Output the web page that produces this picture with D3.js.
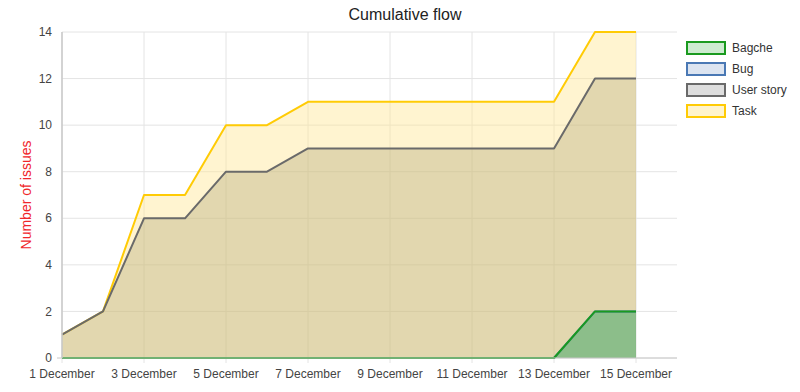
<!DOCTYPE html>
<html>
<head>
<meta charset="utf-8">
<script src="https://cdn.jsdelivr.net/npm/d3@7"></script>
<style>
	body { margin: 0; background: #fff; }
	svg { font-family: "Liberation Sans", Arial, sans-serif; }
</style>
</head>
<body>
<div id="chart"></div>
<script>
// days of december shown on the axis
const days = [1, 2, 3, 4, 5, 6, 7, 8, 9, 10, 11, 12, 13, 14, 15];
const xTicks = [1, 3, 5, 7, 9, 11, 13, 15];
const yTicks = [0, 2, 4, 6, 8, 10, 12, 14];

// issues per type, stacked bottom to top
const bagche    = [0, 0, 0, 0, 0, 0, 0, 0, 0, 0, 0, 0, 0, 2, 2];
const bug       = [0, 0, 0, 0, 0, 0, 0, 0, 0, 0, 0, 0, 0, 0, 0];
const userStory = [1, 2, 6, 6, 8, 8, 9, 9, 9, 9, 9, 9, 9, 10, 10];
const task      = [0, 0, 1, 1, 2, 2, 2, 2, 2, 2, 2, 2, 2, 2, 2];

const seriesNames = ['Bagche', 'Bug', 'User story', 'Task'];

const W = 800, H = 392;
const margin = {top: 32, right: 123, bottom: 34, left: 62};

const svg = d3.select('#chart').append('svg')
	.attr('width', W)
	.attr('height', H);

const x = d3.scaleLinear()
	.domain([1, 16])
	.range([margin.left, W - margin.right]);

const y = d3.scaleLinear()
	.domain([0, 14])
	.range([H - margin.bottom, margin.top]);

// build stacked table
const table = days.map((d, i) => ({
	day: d,
	'Bagche': bagche[i],
	'Bug': bug[i],
	'User story': userStory[i],
	'Task': task[i]
}));
const stacked = d3.stack().keys(seriesNames)(table);

const styles = {
	'Bagche':     {line: '#1a9a1f', fill: 'rgba(40,170,85,0.41)', box: '#cdebd0'},
	'Bug':        {line: '#4a78b4', fill: 'rgba(74,120,180,0.1)', box: '#dce4f0'},
	'User story': {line: '#6a6a6a', fill: 'rgba(160,150,100,0.3)', box: '#dedede'},
	'Task':       {line: '#ffcb05', fill: 'rgba(255,230,150,0.45)', box: '#fff4cc'}
};

// grid
const grid = svg.append('g');
grid.selectAll('line.h')
	.data(yTicks)
	.enter().append('line')
		.attr('x1', margin.left)
		.attr('x2', W - margin.right)
		.attr('y1', d => y(d))
		.attr('y2', d => y(d))
		.attr('stroke', '#e4e4e4')
		.attr('stroke-width', 1);
grid.selectAll('line.v')
	.data(xTicks)
	.enter().append('line')
		.attr('x1', d => x(d))
		.attr('x2', d => x(d))
		.attr('y1', margin.top)
		.attr('y2', H - margin.bottom + 5)
		.attr('stroke', '#e4e4e4')
		.attr('stroke-width', 1);

// areas: each series fills to the axis, drawn top series first
const area = d3.area()
	.x((d, i) => x(days[i]))
	.y0(y(0))
	.y1(d => y(d[1]));
const line = d3.line()
	.x((d, i) => x(days[i]))
	.y(d => y(d[1]));

const order = stacked.slice().reverse();
svg.append('g').selectAll('path')
	.data(order)
	.enter().append('path')
		.attr('d', area)
		.attr('fill', d => styles[d.key].fill);

svg.append('g').selectAll('path')
	.data(order)
	.enter().append('path')
		.attr('d', line)
		.attr('fill', 'none')
		.attr('stroke', d => styles[d.key].line)
		.attr('stroke-width', 2)
		.attr('stroke-linejoin', 'round');

// axes lines
svg.append('line')
	.attr('x1', margin.left).attr('x2', margin.left)
	.attr('y1', margin.top).attr('y2', H - margin.bottom)
	.attr('stroke', '#c8c8c8').attr('stroke-width', 1.5);
svg.append('line')
	.attr('x1', margin.left - 5).attr('x2', W - margin.right)
	.attr('y1', y(0)).attr('y2', y(0))
	.attr('stroke', '#c8c8c8').attr('stroke-width', 1);

// tick labels
svg.append('g').selectAll('text')
	.data(yTicks)
	.enter().append('text')
		.attr('x', margin.left - 10)
		.attr('y', d => y(d))
		.attr('dy', '0.35em')
		.attr('text-anchor', 'end')
		.attr('font-size', 12)
		.attr('fill', '#444')
		.text(d => d);

svg.append('g').selectAll('text')
	.data(xTicks)
	.enter().append('text')
		.attr('x', d => x(d))
		.attr('y', H - margin.bottom + 20)
		.attr('text-anchor', 'middle')
		.attr('font-size', 12)
		.attr('fill', '#444')
		.text(d => `${d} December`);

// title
svg.append('text')
	.attr('x', 405)
	.attr('y', 20)
	.attr('text-anchor', 'middle')
	.attr('font-size', 16)
	.attr('fill', '#222')
	.text('Cumulative flow');

// y axis label
svg.append('text')
	.attr('transform', `translate(31, ${(margin.top + H - margin.bottom) / 2}) rotate(-90)`)
	.attr('text-anchor', 'middle')
	.attr('font-size', 14)
	.attr('fill', '#f0262a')
	.text('Number of issues');

// legend
const legend = svg.append('g')
	.attr('transform', 'translate(687, 42)');
const items = legend.selectAll('g')
	.data(seriesNames)
	.enter().append('g')
		.attr('transform', (d, i) => `translate(0, ${i * 21})`);
items.append('rect')
	.attr('width', 38)
	.attr('height', 12)
	.attr('fill', d => styles[d].box)
	.attr('stroke', d => styles[d].line)
	.attr('stroke-width', 2);
items.append('text')
	.attr('x', 45)
	.attr('y', 6)
	.attr('dy', '0.35em')
	.attr('font-size', 12)
	.attr('fill', '#333')
	.text(d => d);
</script>
</body>
</html>
